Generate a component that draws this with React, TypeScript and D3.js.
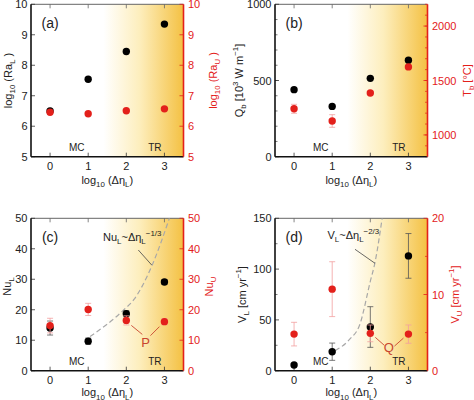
import React from "react";
import * as d3 from "d3";

// ---------- data ----------
const xCats = [0, 1, 2, 3];
const xTicks = [0, 1, 2, 3];

const raL = [6.5, 7.54, 8.45, 9.35];
const raU = [6.46, 6.41, 6.51, 6.57];

const qb = [440, 330, 514, 633];
const tb = [1240, 1128, 1385, 1625];
const tbErr = [41, 58, 15, 10];

const nuL = [14.0, 9.7, 18.7, 29.1];
const nuLErr = [2.3, 1.0, 1.0, 0.8];
const nuU = [14.8, 20.1, 16.5, 16.1];
const nuUErr = [2.4, 2.0, 1.5, 1.0];

const vL = [5.6, 18.7, 43, 113];
const vLErr = [1.5, 8.5, 20, 22];
const vU = [4.8, 10.7, 4.9, 4.8];
const vUErr = [1.55, 3.6, 1.1, 1.2];

// dashed trend curves
const nuCurveX = [1.05, 1.93, 2.19, 2.68, 3.13];
const nuCurveY = [11.2, 19.9, 23.2, 34.7, 50];
const vCurveX = [1.08, 1.46, 1.72, 2.0, 2.12, 2.31];
const vCurveY = [19.7, 31, 45, 88, 106, 150];

// ---------- styling ----------
const RED = "#e3201b";
const FONT = "'Liberation Sans', Arial, sans-serif";

type Seg = { t: string; s?: "sub" | "sup" };

function Rich({ segs, x, y, size, fill, anchor = "start", rotate = false }: {
  segs: Seg[]; x: number; y: number; size: number; fill: string; anchor?: string; rotate?: boolean;
}) {
  let cur = 0;
  const small = size * 0.72;
  const tsp = segs.map((s, i) => {
    const target = s.s === "sub" ? size * 0.3 : s.s === "sup" ? -size * 0.42 : 0;
    const dy = target - cur;
    cur = target;
    return (
      <tspan key={i} dy={dy} fontSize={s.s ? small : size}>{s.t}</tspan>
    );
  });
  const transform = rotate ? `translate(${x},${y}) rotate(-90)` : `translate(${x},${y})`;
  return (
    <text transform={transform} textAnchor={anchor} fill={fill} fontFamily={FONT} fontSize={size}>
      {tsp}
    </text>
  );
}

const xLabel: Seg[] = [{ t: "log" }, { t: "10", s: "sub" }, { t: " (Δη" }, { t: "L", s: "sub" }, { t: ")" }];

type Series = { y: number[]; err?: number[]; color: string; errColor: string; axis: "L" | "R" };

type PanelProps = {
  id: string;
  x0: number; y0: number; w: number; h: number;
  leftDomain: [number, number]; rightDomain: [number, number];
  leftTicks: number[]; leftMinor: number[];
  rightTicks: number[]; rightMinor: number[];
  leftLabel: Seg[]; rightLabel: Seg[];
  leftLabelX: number; rightLabelX: number; labelYOff?: number;
  xLabelOff: number;
  series: Series[];
  tag: string;
  curve?: { xs: number[]; ys: number[] };
  children?: (sx: d3.ScaleLinear<number, number>, syL: d3.ScaleLinear<number, number>, syR: d3.ScaleLinear<number, number>) => React.ReactNode;
};

function Panel(p: PanelProps) {
  const sx = d3.scaleLinear().domain([-0.5, 3.5]).range([p.x0, p.x0 + p.w]);
  const syL = d3.scaleLinear().domain(p.leftDomain).range([p.y0 + p.h, p.y0]);
  const syR = d3.scaleLinear().domain(p.rightDomain).range([p.y0 + p.h, p.y0]);
  const bottom = p.y0 + p.h;
  const right = p.x0 + p.w;
  const gx0 = sx(1.4);
  const line = d3.line<number>()
    .x((_, i) => sx(p.curve ? p.curve.xs[i] : 0))
    .y((d) => syL(d))
    .curve(d3.curveMonotoneX);
  return (
    <g>
      <defs>
        <linearGradient id={`grad-${p.id}`} x1="0" x2="1" y1="0" y2="0">
          <stop offset="0" stopColor="#ffffff" />
          <stop offset="0.45" stopColor="#fdeebd" />
          <stop offset="1" stopColor="#f4c143" />
        </linearGradient>
        <clipPath id={`clip-${p.id}`}>
          <rect x={p.x0} y={p.y0} width={p.w} height={p.h} />
        </clipPath>
      </defs>
      <rect x={gx0} y={p.y0} width={right - gx0} height={p.h} fill={`url(#grad-${p.id})`} />
      {/* frame */}
      <line x1={p.x0} x2={right} y1={p.y0} y2={p.y0} stroke="#666" strokeWidth={1} />
      {/* x ticks */}
      {xTicks.map((t) => (
        <g key={t}>
          <line x1={sx(t)} x2={sx(t)} y1={bottom} y2={bottom - 4} stroke="#333" strokeWidth={0.8} />
          <line x1={sx(t)} x2={sx(t)} y1={p.y0} y2={p.y0 + 4} stroke="#666" strokeWidth={0.8} />
          <text x={sx(t)} y={bottom + 13.5} textAnchor="middle" fontFamily={FONT} fontSize={11} fill="#222">{t}</text>
        </g>
      ))}
      {/* left ticks */}
      {p.leftMinor.map((t) => (
        <line key={"lm" + t} x1={p.x0} x2={p.x0 + 2.5} y1={syL(t)} y2={syL(t)} stroke="#444" strokeWidth={0.7} />
      ))}
      {p.leftTicks.map((t) => (
        <g key={"l" + t}>
          <line x1={p.x0} x2={p.x0 + 4} y1={syL(t)} y2={syL(t)} stroke="#333" strokeWidth={0.8} />
          <text x={p.x0 - 3.5} y={syL(t) + 4} textAnchor="end" fontFamily={FONT} fontSize={11} fill="#222">{t}</text>
        </g>
      ))}
      {/* right ticks */}
      {p.rightMinor.map((t) => (
        <line key={"rm" + t} x1={right} x2={right - 2.5} y1={syR(t)} y2={syR(t)} stroke={RED} strokeWidth={0.7} />
      ))}
      {p.rightTicks.map((t) => (
        <g key={"r" + t}>
          <line x1={right} x2={right - 4} y1={syR(t)} y2={syR(t)} stroke={RED} strokeWidth={0.8} />
          <text x={right + 4.5} y={syR(t) + 4} textAnchor="start" fontFamily={FONT} fontSize={11} fill={RED}>{t}</text>
        </g>
      ))}
      <line x1={p.x0} x2={p.x0} y1={p.y0} y2={bottom} stroke="#111" strokeWidth={1.6} />
      <line x1={p.x0} x2={right} y1={bottom} y2={bottom} stroke="#111" strokeWidth={1.6} />
      <line x1={right} x2={right} y1={p.y0} y2={bottom} stroke={RED} strokeWidth={1.6} />

      {/* curve */}
      {p.curve && (
        <path d={line(p.curve.ys) || ""} fill="none" stroke="#a8a8a8" strokeWidth={1.2} strokeDasharray="5,3" clipPath={`url(#clip-${p.id})`} />
      )}
      {p.children && p.children(sx, syL, syR)}

      {/* series */}
      {p.series.map((s, si) => {
        const sy = s.axis === "L" ? syL : syR;
        return (
          <g key={si}>
            {s.err && s.y.map((v, i) => {
              const e = s.err![i];
              const cx = sx(xCats[i]);
              return (
                <g key={"e" + i} stroke={s.errColor} strokeWidth={0.8}>
                  <line x1={cx} x2={cx} y1={sy(v - e)} y2={sy(v + e)} />
                  <line x1={cx - 3} x2={cx + 3} y1={sy(v - e)} y2={sy(v - e)} />
                  <line x1={cx - 3} x2={cx + 3} y1={sy(v + e)} y2={sy(v + e)} />
                </g>
              );
            })}
            {s.y.map((v, i) => (
              <circle key={"c" + i} cx={sx(xCats[i])} cy={sy(v)} r={3.7} fill={s.color} />
            ))}
          </g>
        );
      })}

      {/* regime labels */}
      <text x={sx(0.7)} y={bottom - 6} textAnchor="middle" fontFamily={FONT} fontSize={10} fill="#222">MC</text>
      <text x={sx(2.75)} y={bottom - 6} textAnchor="middle" fontFamily={FONT} fontSize={10} fill="#222">TR</text>
      {/* panel tag */}
      <text x={sx(0)} y={p.y0 + 24} textAnchor="middle" fontFamily={FONT} fontSize={14} fill="#222">{p.tag}</text>

      {/* axis labels */}
      <Rich segs={xLabel} x={p.x0 + p.w / 2} y={bottom + p.xLabelOff} size={11} fill="#222" anchor="middle" />
      <Rich segs={p.leftLabel} x={p.leftLabelX} y={p.y0 + p.h / 2 + (p.labelYOff || 0)} size={11} fill="#222" anchor="middle" rotate />
      <Rich segs={p.rightLabel} x={p.rightLabelX} y={p.y0 + p.h / 2 + (p.labelYOff || 0)} size={11} fill={RED} anchor="middle" rotate />
    </g>
  );
}

const range = (a: number, b: number, s: number) => d3.range(a, b + s / 2, s);

export default function App() {
  const W = 152.5, H = 152.4;
  const LX = 31, RX = 275, TY = 4.3, BY = 218.3;
  return (
    <svg width={474} height={400} style={{ position: "absolute", left: 0, top: 0, background: "#fff" }}>
      <Panel
        id="a" x0={LX} y0={TY} w={W} h={H}
        leftDomain={[5, 10]} rightDomain={[5, 10]}
        leftTicks={range(5, 10, 1)} leftMinor={[]}
        rightTicks={range(5, 10, 1)} rightMinor={[]}
        leftLabel={[{ t: "log" }, { t: "10", s: "sub" }, { t: " (Ra" }, { t: "L", s: "sub" }, { t: " )" }]}
        rightLabel={[{ t: "log" }, { t: "10", s: "sub" }, { t: " (Ra" }, { t: "U", s: "sub" }, { t: " )" }]}
        leftLabelX={12} rightLabelX={217} xLabelOff={27}
        series={[
          { y: raL, color: "#000", errColor: "#555", axis: "L" },
          { y: raU, color: RED, errColor: "#f2a0a0", axis: "R" },
        ]}
        tag="(a)"
      />
      <Panel
        id="b" x0={RX} y0={TY} w={W} h={H}
        leftDomain={[0, 1000]} rightDomain={[800, 2200]}
        leftTicks={[0, 500, 1000]} leftMinor={range(100, 900, 100)}
        rightTicks={[1000, 1500, 2000]} rightMinor={range(800, 2200, 100)}
        leftLabel={[{ t: "Q" }, { t: "b", s: "sub" }, { t: " [10" }, { t: "3", s: "sup" }, { t: " W m" }, { t: "−1", s: "sup" }, { t: "]" }]}
        rightLabel={[{ t: "T" }, { t: "b", s: "sub" }, { t: " [°C]" }]}
        leftLabelX={243} rightLabelX={471} xLabelOff={27}
        series={[
          { y: qb, color: "#000", errColor: "#555", axis: "L" },
          { y: tb, err: tbErr, color: RED, errColor: "#f2a0a0", axis: "R" },
        ]}
        tag="(b)"
      />
      <Panel
        id="c" x0={LX} y0={BY} w={W} h={H}
        leftDomain={[0, 50]} rightDomain={[0, 50]}
        leftTicks={range(0, 50, 10)} leftMinor={[]}
        rightTicks={range(0, 50, 10)} rightMinor={[]}
        leftLabel={[{ t: "Nu" }, { t: "L", s: "sub" }]}
        rightLabel={[{ t: "Nu" }, { t: "U", s: "sub" }]}
        leftLabelX={11} rightLabelX={213} labelYOff={-8} xLabelOff={25.5}
        series={[
          { y: nuL, err: nuLErr, color: "#000", errColor: "#555", axis: "L" },
          { y: nuU, err: nuUErr, color: RED, errColor: "#f2a0a0", axis: "R" },
        ]}
        tag="(c)"
        curve={{ xs: nuCurveX, ys: nuCurveY }}
      >
        {(sx, syL) => (
          <g>
            <line x1={138.3} x2={151.7} y1={250} y2={265} stroke="#444" strokeWidth={0.8} />
            <Rich segs={[{ t: "Nu" }, { t: "L", s: "sub" }, { t: "~Δη" }, { t: "L", s: "sub" }, { t: "−1/3", s: "sup" }]} x={103} y={241} size={11} fill="#222" />
            <line x1={sx(2) + 5} x2={sx(2) + 16} y1={syL(nuU[2]) + 5} y2={syL(nuU[2]) + 14} stroke="#c8452f" strokeWidth={0.9} />
            <line x1={sx(3) - 5} x2={sx(3) - 14} y1={syL(nuU[3]) + 5} y2={syL(nuU[3]) + 14} stroke="#c8452f" strokeWidth={0.9} />
            <text x={145.7} y={346.5} textAnchor="middle" fontFamily={FONT} fontSize={13} fill="#c8452f">P</text>
          </g>
        )}
      </Panel>
      <Panel
        id="d" x0={RX} y0={BY} w={W} h={H}
        leftDomain={[0, 150]} rightDomain={[0, 20]}
        leftTicks={[0, 50, 100, 150]} leftMinor={[25, 75, 125]}
        rightTicks={[0, 10, 20]} rightMinor={[5, 15]}
        leftLabel={[{ t: "V" }, { t: "L", s: "sub" }, { t: " [cm  yr" }, { t: "−1", s: "sup" }, { t: "]" }]}
        rightLabel={[{ t: "V" }, { t: "U", s: "sub" }, { t: " [cm  yr" }, { t: "−1", s: "sup" }, { t: "]" }]}
        leftLabelX={246} rightLabelX={459} xLabelOff={25.5}
        series={[
          { y: vL, err: vLErr, color: "#000", errColor: "#555", axis: "L" },
          { y: vU, err: vUErr, color: RED, errColor: "#f2a0a0", axis: "R" },
        ]}
        tag="(d)"
        curve={{ xs: vCurveX, ys: vCurveY }}
      >
        {(sx, syL, syR) => (
          <g>
            <line x1={355} x2={375} y1={249.3} y2={263.3} stroke="#444" strokeWidth={0.8} />
            <Rich segs={[{ t: "V" }, { t: "L", s: "sub" }, { t: "~Δη" }, { t: "L", s: "sub" }, { t: "−2/3", s: "sup" }]} x={327.5} y={239} size={11} fill="#222" />
            <line x1={sx(2) + 5} x2={sx(2) + 14} y1={syR(vU[2]) + 4} y2={syR(vU[2]) + 12} stroke="#c8452f" strokeWidth={0.9} />
            <line x1={sx(3) - 5} x2={sx(3) - 14} y1={syR(vU[3]) + 4} y2={syR(vU[3]) + 12} stroke="#c8452f" strokeWidth={0.9} />
            <text x={388.7} y={351.5} textAnchor="middle" fontFamily={FONT} fontSize={13} fill="#c8452f">Q</text>
          </g>
        )}
      </Panel>
    </svg>
  );
}
